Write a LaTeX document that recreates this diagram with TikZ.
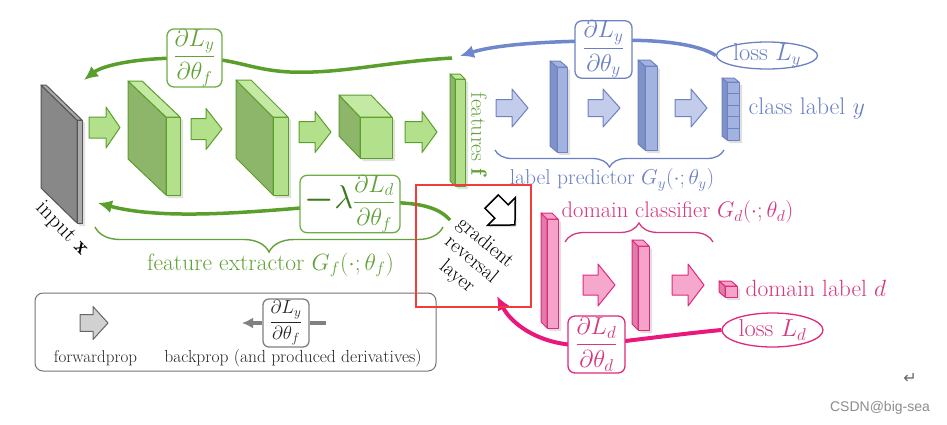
\RequirePackage{fix-cm}
\documentclass[tikz,border=0pt]{standalone}
\usepackage{amsmath}
\usepackage{fontspec}
\newfontfamily\dejavu{DejaVu Sans}
\newfontfamily\libsans{Liberation Sans}
\usetikzlibrary{arrows.meta,shapes.geometric,decorations.pathreplacing}
\pgfdeclarelayer{bg}
\pgfsetlayers{bg,main}

\definecolor{gline}{HTML}{5A9E2B}
\definecolor{gtext}{HTML}{62A23A}
\definecolor{gbox}{HTML}{6DAE45}
\definecolor{gface}{HTML}{B3E08A}
\definecolor{gdark}{HTML}{8DB66B}
\definecolor{gtop}{HTML}{C4E9A2}
\definecolor{gedge}{HTML}{5C9E2E}
\definecolor{gdeep}{HTML}{3A7A1A}
\definecolor{bline}{HTML}{6F87CB}
\definecolor{btext}{HTML}{6B7FC4}
\definecolor{bface}{HTML}{A3B3E0}
\definecolor{bdark}{HTML}{8093C9}
\definecolor{barrow}{HTML}{C3CCEB}
\definecolor{bedge}{HTML}{6E82C2}
\definecolor{pline}{HTML}{E8187C}
\definecolor{ptext}{HTML}{D6377F}
\definecolor{pface}{HTML}{F5A3C8}
\definecolor{pdark}{HTML}{E07CAA}
\definecolor{pedge}{HTML}{E0287F}
\definecolor{parrow}{HTML}{F5A8CB}
\definecolor{grayface}{HTML}{888888}
\definecolor{grayside}{HTML}{ABABAB}
\definecolor{grayedge}{HTML}{555555}
\definecolor{redbox}{HTML}{F23B3B}

% block arrow: #1 style, #2 x0, #3 x1 (head start), #4 x2 (tip), #5 yc, #6 half shaft, #7 half head
\newcommand{\dannarrow}[7]{%
  \draw[#1] (#2,{#5-#6}) -- (#3,{#5-#6}) -- (#3,{#5-#7}) -- (#4,#5) -- (#3,{#5+#7}) -- (#3,{#5+#6}) -- (#2,{#5+#6}) -- cycle;}
% slab: #1 side fill, #2 front fill, #3 top fill, #4 L, #5 M, #6 R, #7 T, #8 B, #9 dy
\newcommand{\danncol}[9]{%
  \fill[black, opacity=0.12] ({#4+3},{#7-#9+3}) -- ({#6+3},{#7+3}) -- ({#6+3},{#8+3}) -- ({#5+3},{#8+3}) -- ({#4+3},{#8-#9+3}) -- cycle;
  \draw[fill=#1] (#4,{#7-#9}) -- (#5,#7) -- (#5,#8) -- (#4,{#8-#9}) -- cycle;
  \draw[fill=#2] (#5,#7) rectangle (#6,#8);
  \draw[fill=#3] (#4,{#7-#9}) -- ({#4+#6-#5},{#7-#9}) -- (#6,#7) -- (#5,#7) -- cycle;}
\newcommand{\dannfont}{\fontsize{22}{25}\selectfont}

\begin{document}
\begin{tikzpicture}[x=1pt,y=-1pt,
  every node/.style={font=\dannfont},
  dbox/.style={draw, rounded corners=7pt, fill=white, line width=1.3pt, inner sep=0pt, font=\fontsize{24.5}{28}\selectfont},
  lossell/.style={ellipse, line width=1.3pt, fill=white, inner sep=0pt, minimum width=101pt},
  gcurve/.style={gline, line width=3.5pt, -{Latex[length=14pt,width=13pt]}},
  bcurve/.style={bline, line width=3.5pt, -{Latex[length=14pt,width=13pt]}},
  pcurve/.style={pline, line width=4pt, -{Latex[length=14pt,width=13pt]}},
  slab/.style={line width=1pt, line join=round},
  garr/.style={fill=gface, draw=gedge, line width=1pt, line join=round},
  barr/.style={fill=barrow, draw=bedge, line width=1pt, line join=round},
  parr/.style={fill=parrow, draw=pedge, line width=1pt, line join=round}]
\useasboundingbox (0,0) rectangle (947,424);

% ---------- input ----------
\begin{scope}[slab, draw=grayedge]
\danncol{grayface}{grayside}{grayside}{41}{77}{82}{120}{223}{35}
\end{scope}
\node[rotate=-46] (inp) at (62,229) {input $\mathbf{x}$};

% ---------- feature extractor ----------
\begin{scope}[slab, draw=gedge]
\danncol{gdark}{gface}{gtop}{128}{166}{180}{117}{195}{36}
\danncol{gdark}{gface}{gtop}{236}{273}{288}{117}{195}{37}
\danncol{gdark}{gface}{gtop}{339}{360}{392}{117}{158}{22}
\danncol{gdark}{gface}{gtop}{450}{455}{465}{79}{186}{5}
\end{scope}
\dannarrow{garr}{89}{106}{120}{127.5}{10.5}{20.5}
\dannarrow{garr}{191}{206}{222}{129}{10.5}{20.5}
\dannarrow{garr}{299}{315}{331}{132}{10.5}{20.5}
\dannarrow{garr}{405}{422}{437}{132}{10.5}{20.5}
\node[text=gtext, rotate=-90] (feat) at (479,134) {features $\mathbf{f}$};
\draw[gtext, line width=1.4pt, decorate, decoration={brace, amplitude=25pt}] (443,227) -- (95,227);
\node[text=gtext, font=\fontsize{23.5}{26}\selectfont] (fe) at (270.5,265) {feature extractor $G_f(\cdot;\theta_f)$};

% ---------- label predictor ----------
\begin{scope}[slab, draw=bedge]
\danncol{bdark}{bface}{bface}{550}{557}{567}{67}{152}{6}
\danncol{bdark}{bface}{bface}{638}{645}{657}{66}{150}{6}
\danncol{bdark}{bface}{bface}{722}{727}{739}{82}{140}{4}
\foreach \yy in {93.6,105.2,116.8,128.4} \draw (727,\yy) -- (739,\yy);
\end{scope}
\dannarrow{barr}{496}{512}{528}{108}{8.5}{19}
\dannarrow{barr}{588}{603}{620}{108}{8.5}{19}
\dannarrow{barr}{675}{691}{707}{108}{8.5}{19}
\node[text=btext, anchor=west, font=\fontsize{24}{26}\selectfont] (cly) at (745,108) {class label $y$};
\draw[btext, line width=1.3pt, decorate, decoration={brace, amplitude=17pt}] (724,150) -- (495,150);
\node[text=btext, font=\fontsize{21.5}{24}\selectfont] (lp) at (612,180) {label predictor $G_y(\cdot;\theta_y)$};

% ---------- domain classifier ----------
\begin{scope}[slab, draw=pedge]
\danncol{pdark}{pface}{pface}{541}{547}{558}{219}{328}{6}
\danncol{pdark}{pface}{pface}{632}{638}{649}{246}{330}{6}
\danncol{pdark}{pface}{pface}{719}{725}{737}{286}{297}{5}
\end{scope}
\dannarrow{parr}{583}{598}{615}{285}{10}{21}
\dannarrow{parr}{672}{688}{704}{285}{10}{21}
\node[text=ptext, font=\fontsize{22.5}{25}\selectfont] (dc) at (677.5,212) {domain classifier $G_d(\cdot;\theta_d)$};
\draw[ptext, line width=1.3pt, decorate, decoration={brace, amplitude=19pt}] (565,242) -- (713,242);
\node[text=ptext, anchor=west, font=\fontsize{23.5}{26}\selectfont] (dl) at (742,288) {domain label $d$};

% ---------- gradient reversal layer ----------
\begin{scope}[shift={(503,213.5)}, rotate=-45]
\dannarrow{fill=black!35, draw=none, opacity=0.35}{-14}{0}{19}{0}{9.5}{19.5}
\end{scope}
\begin{scope}[shift={(501.5,211.5)}, rotate=-45]
\dannarrow{fill=white, draw=black, line width=1.5pt, line join=miter}{-14}{0}{19}{0}{9.5}{19.5}
\end{scope}
\node[align=center, rotate=-40, font=\fontsize{20.5}{22}\selectfont] (grl) at (471,260) {gradient\\reversal\\layer};

% ---------- derivative boxes and losses ----------
\node[dbox, draw=gbox, text=gtext, minimum width=55pt, minimum height=58pt] (dyf) at (194.5,58) {$\dfrac{\partial L_y}{\partial\theta_f}$};
\node[dbox, draw=bedge, text=btext, minimum width=57pt, minimum height=57pt] (dy) at (603.5,49.5) {$\dfrac{\partial L_y}{\partial\theta_y}$};
\node[dbox, draw=gbox, text=gtext, minimum width=100pt, minimum height=56pt] (dlf) at (350,204) {\mbox{\fontsize{33}{36}\selectfont\color{gdeep}$\boldsymbol{-}\lambda$}$\dfrac{\partial L_d}{\partial\theta_f}$};
\node[dbox, draw=pedge, text=ptext, minimum width=57pt, minimum height=57pt] (dd) at (596.5,344.5) {$\dfrac{\partial L_d}{\partial\theta_d}$};
\node[lossell, draw=bedge, minimum height=27pt] (lossy) at (767,55.5) {};
\node[text=btext, font=\fontsize{24.5}{26}\selectfont] (lossyt) at (lossy) {loss $L_y$};
\node[lossell, draw=pedge, minimum height=34pt] (lossd) at (772.5,330) {};
\node[text=ptext, font=\fontsize{24.5}{26}\selectfont] (lossdt) at (lossd) {loss $L_d$};

\coordinate (dyc) at (603,41);
\coordinate (fyb) at (460,56);
\coordinate (ftop) at (452,58);
\coordinate (gtip1) at (84,80);
\coordinate (grlc) at (450,220);
\coordinate (gtip2) at (98,203);
\coordinate (ptip) at (497,296);

\begin{pgfonlayer}{bg}
\draw[bcurve] (lossy.west) .. controls (700,45) and (660,38) .. (dyc) .. controls (545,41) and (495,45) .. (fyb);
\draw[gcurve] (ftop) .. controls (385,62) and (340,74) .. (290,72) .. controls (250,70) and (235,58) .. (dyf.center) .. controls (135,57) and (102,66) .. (gtip1);
\draw[gcurve] (grlc) .. controls (438,207) and (418,199) .. (dlf.center) .. controls (270,210) and (170,222) .. (gtip2);
\draw[pcurve] (lossd.west) .. controls (690,333) and (650,338) .. (dd.center) .. controls (545,350) and (512,325) .. (ptip);
\end{pgfonlayer}

% ---------- legend ----------
\node[draw=black!55, line width=1pt, rounded corners=8pt, minimum width=401pt, minimum height=78pt, inner sep=0pt] (legend) at (235.5,332) {};
\dannarrow{fill=black!18, draw=black!60, line width=1pt, line join=round}{80}{93}{108}{323}{8.3}{16.5}
\node[font=\fontsize{17}{20}\selectfont, text=black!85] (fwd) at (95.5,358) {forwardprop};
\node[dbox, draw=black!50, text=black!85, minimum width=46pt, minimum height=48pt, rounded corners=6pt, font=\fontsize{19}{22}\selectfont] (dleg) at (286,323) {$\dfrac{\partial L_y}{\partial\theta_f}$};
\coordinate (legR) at (326,323);
\coordinate (legT) at (242,323);
\draw[black!50, line width=3.5pt] (legR) -- (dleg.east);
\draw[black!50, line width=3.5pt, -{Latex[length=11pt,width=11pt]}] (dleg.west) -- (legT);
\node[font=\fontsize{17.5}{20}\selectfont, text=black!85] (bwd) at (293,358) {backprop (and produced derivatives)};

% ---------- annotations ----------
\node[draw=redbox, line width=2.5pt, minimum width=115pt, minimum height=122pt, inner sep=0pt] (red) at (473.5,246) {};
\node[text=black!60, font=\dejavu\fontsize{16}{18}\selectfont] (ret) at (910,378) {↵};
\node[text=black!45, font=\libsans\fontsize{14}{16}\selectfont] (wm) at (880,408) {CSDN@big-sea};
\end{tikzpicture}
\end{document}
